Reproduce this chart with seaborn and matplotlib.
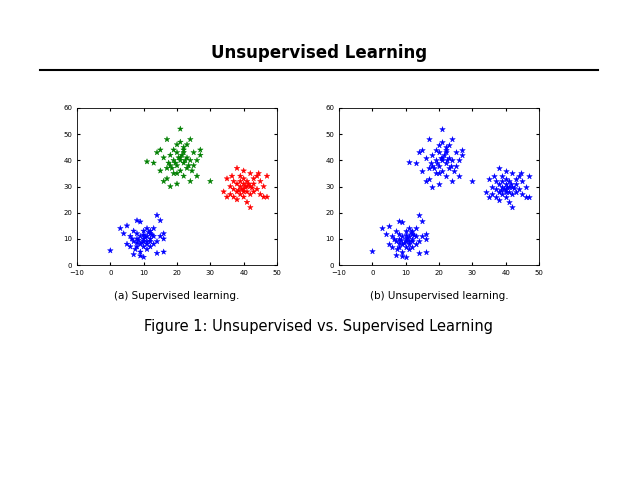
import matplotlib
matplotlib.use("Agg")
import matplotlib.pyplot as plt
import seaborn as sns
import pandas as pd

blue_x = [0, 3, 4, 5, 5, 6, 6, 7, 7, 7, 8, 8, 8, 8, 9, 9, 9, 9, 10, 10, 10, 10, 10, 11, 11, 11, 11, 12, 12, 12, 12, 13, 13, 13, 14, 14, 15, 15, 16, 16, 16, 8.5, 9.5, 10.5, 11.5, 12.5, 7.5, 6.5, 14, 9, 11, 12, 10, 8]
blue_y = [5.5, 14, 12, 15, 8, 11, 7, 13, 4, 9, 17, 12, 7, 10, 16.5, 11, 8, 5, 13, 10, 7, 9, 3, 14, 11, 8, 6, 12, 9, 7, 10, 14, 8, 11, 19, 4.5, 17, 11, 12, 10, 5, 9.5, 8.5, 10.5, 12.5, 11.5, 6, 10, 9, 3.5, 9, 13, 11.5, 8.5]
green_x = [11, 13, 14, 15, 15, 16, 16, 17, 17, 17, 18, 18, 18, 19, 19, 19, 20, 20, 20, 20, 21, 21, 21, 21, 22, 22, 22, 22, 23, 23, 23, 24, 24, 24, 25, 25, 26, 26, 27, 27, 30, 19.5, 20.5, 21.5, 22.5, 23.5, 18.5, 17.5, 24.5, 21, 22, 20]
green_y = [39.5, 39, 43, 36, 44, 41, 32, 48, 37, 33, 42, 38, 30, 40, 35, 44, 43, 38, 46, 31, 41, 36, 47, 52, 39, 43, 34, 44, 41, 37, 46, 40, 32, 48, 43, 38, 34, 40, 44, 42, 32, 39, 41, 42, 40, 38, 37, 39, 36, 40, 45, 35]
red_x = [34, 35, 35, 36, 36, 37, 37, 37, 38, 38, 38, 38, 39, 39, 39, 39, 40, 40, 40, 40, 40, 41, 41, 41, 41, 42, 42, 42, 42, 43, 43, 43, 44, 44, 45, 45, 46, 46, 47, 47, 39.5, 40.5, 41.5, 38.5, 42.5, 36.5, 44.5, 40]
red_y = [28, 33, 26, 30, 27, 32, 26, 29, 37, 31, 28, 25, 34, 30, 27, 32, 36, 31, 29, 26, 33, 30, 28, 24, 32, 35, 30, 27, 22, 31, 28, 33, 34, 29, 27, 32, 30, 26, 34, 26, 29, 30, 31, 28.5, 29.5, 34, 35, 28]

df = pd.DataFrame({
    "x": blue_x + green_x + red_x,
    "y": blue_y + green_y + red_y,
    "c": ["b"] * len(blue_x) + ["g"] * len(green_x) + ["r"] * len(red_x),
})

fig = plt.figure(figsize=(6.38, 4.93), dpi=100)
fig.text(0.5, 0.893, "Unsupervised Learning", ha="center", va="center", fontsize=12, fontweight="bold")
fig.add_artist(plt.Line2D([0.063, 0.937], [0.858, 0.858], color="black", lw=1.5))

ax1 = fig.add_axes([77/638, 1-265/493, 200/638, 157/493])
ax2 = fig.add_axes([339/638, 1-265/493, 200/638, 157/493])
pal = {"b": "#0000ff", "g": "#007f00", "r": "#ff0000"}
sns.scatterplot(data=df, x="x", y="y", hue="c", palette=pal, marker="*", s=18, linewidth=0.3, edgecolor="face", legend=False, ax=ax1)
sns.scatterplot(data=df, x="x", y="y", color="#0000ff", marker="*", s=18, linewidth=0.3, edgecolor="face", legend=False, ax=ax2)
for ax in (ax1, ax2):
    ax.set_xlim(-10, 50)
    ax.set_ylim(0, 60)
    ax.set_xticks([-10, 0, 10, 20, 30, 40, 50])
    ax.set_xticklabels(["\u221210", "0", "10", "20", "30", "40", "50"])
    ax.set_yticks(range(0, 61, 10))
    ax.tick_params(labelsize=5, direction="in", length=2, top=True, right=True)
    for s in ax.spines.values():
        s.set_linewidth(0.6)
    ax.set_xlabel("")
    ax.set_ylabel("")
fig.text(177/638, 1-296/493, "(a) Supervised learning.", ha="center", va="center", fontsize=7.5)
fig.text(439/638, 1-296/493, "(b) Unsupervised learning.", ha="center", va="center", fontsize=7.5)
fig.text(0.5, 1-326/493, "Figure 1: Unsupervised vs. Supervised Learning", ha="center", va="center", fontsize=10.5)
fig.savefig("out.png", dpi=100)
